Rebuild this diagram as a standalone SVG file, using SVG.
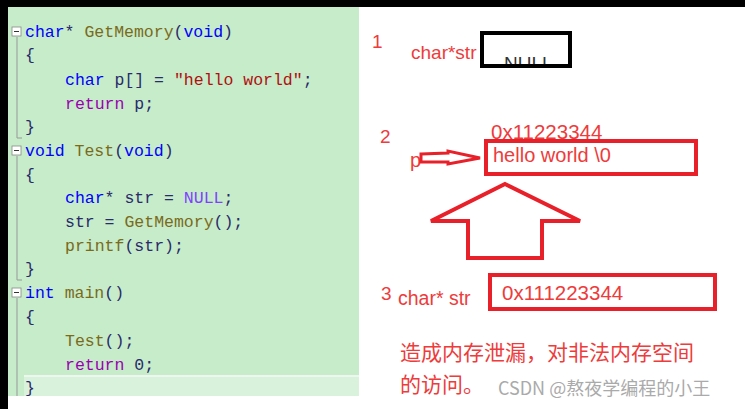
<svg xmlns="http://www.w3.org/2000/svg" width="745" height="409" viewBox="0 0 745 409">
<style>
.c{font-family:"Liberation Mono",monospace;font-size:16.5px;white-space:pre}
.k{fill:#0000ff}.f{fill:#7a6a1a}.t{fill:#2a2a6a}.s{fill:#b01010}.r{fill:#9b00b0}.m{fill:#8040ff}
.lab{font-family:"Liberation Sans",Arial,sans-serif;fill:#ee3b3b}
.red{fill:none;stroke:#e8202a;stroke-width:4}
.cn{font-family:"Noto Sans CJK SC",sans-serif;fill:#ee3b3b;font-size:21px}
.fold{fill:#fff;stroke:#888;stroke-width:0.8}
</style>
<rect width="745" height="409" fill="#fff"/>
<g id="code">
<rect x="0" y="0" width="745" height="7" fill="#000"/>
<rect x="0" y="0" width="8" height="409" fill="#000"/>
<rect x="8" y="7" width="351" height="389" fill="#c6ecca"/>
<rect x="24" y="377" width="335" height="19" fill="#d9f2dc"/>
<rect x="24" y="375" width="335" height="2" fill="#eef7ef"/>
<g stroke="#999" stroke-width="1">
<line x1="17" y1="37" x2="17" y2="138"/><line x1="17" y1="138" x2="22" y2="138"/>
<line x1="17" y1="156" x2="17" y2="280"/><line x1="17" y1="280" x2="22" y2="280"/>
<line x1="17" y1="298" x2="17" y2="396"/>
</g>
<rect class="fold" x="12" y="27" width="9" height="9"/><line x1="14" y1="31.5" x2="19" y2="31.5" stroke="#333"/>
<rect class="fold" x="12" y="146" width="9" height="9"/><line x1="14" y1="150.5" x2="19" y2="150.5" stroke="#333"/>
<rect class="fold" x="12" y="288" width="9" height="9"/><line x1="14" y1="292.5" x2="19" y2="292.5" stroke="#333"/>
<text class="c" x="25" y="37"><tspan class="k">char</tspan><tspan class="t">* </tspan><tspan class="f">GetMemory</tspan><tspan class="t">(</tspan><tspan class="k">void</tspan><tspan class="t">)</tspan></text>
<text class="c t" x="25" y="60">{</text>
<text class="c" x="65" y="85"><tspan class="k">char</tspan><tspan class="t"> p[] = </tspan><tspan class="s">"hello world"</tspan><tspan class="t">;</tspan></text>
<text class="c" x="65" y="109"><tspan class="r">return</tspan><tspan class="t"> p;</tspan></text>
<text class="c t" x="25" y="132">}</text>
<text class="c" x="25" y="156"><tspan class="k">void</tspan><tspan class="t"> </tspan><tspan class="f">Test</tspan><tspan class="t">(</tspan><tspan class="k">void</tspan><tspan class="t">)</tspan></text>
<text class="c t" x="25" y="180">{</text>
<text class="c" x="65" y="203"><tspan class="k">char</tspan><tspan class="t">* str = </tspan><tspan class="m">NULL</tspan><tspan class="t">;</tspan></text>
<text class="c" x="65" y="227"><tspan class="t">str = </tspan><tspan class="f">GetMemory</tspan><tspan class="t">();</tspan></text>
<text class="c" x="65" y="251"><tspan class="f">printf</tspan><tspan class="t">(str);</tspan></text>
<text class="c t" x="25" y="274">}</text>
<text class="c" x="25" y="298"><tspan class="k">int</tspan><tspan class="t"> </tspan><tspan class="f">main</tspan><tspan class="t">()</tspan></text>
<text class="c t" x="25" y="322">{</text>
<text class="c" x="65" y="346"><tspan class="f">Test</tspan><tspan class="t">();</tspan></text>
<text class="c" x="65" y="370"><tspan class="r">return</tspan><tspan class="t"> 0;</tspan></text>
<text class="c t" x="25" y="393">}</text>
</g>
<g id="step1">
<text class="lab" x="372" y="48" font-size="19">1</text>
<text class="lab" x="411" y="59" font-size="19">char*str</text>
<text x="504" y="70" font-family="Liberation Sans,sans-serif" font-size="19" fill="#333">NULL</text>
<rect x="482" y="64" width="88" height="10" fill="#fff"/>
<rect x="482" y="33" width="88" height="33" fill="none" stroke="#000" stroke-width="4"/>
</g>
<g id="step2">
<text class="lab" x="380" y="143" font-size="19">2</text>
<text class="lab" x="491" y="139" font-size="20.5">0x11223344</text>
<rect class="red" x="486" y="141" width="210" height="33"/>
<text class="lab" x="493" y="162" font-size="20">hello world \0</text>
<text class="lab" x="410" y="167" font-size="20">p</text>
</g>
<g id="connectors">
<path d="M421 154 L448 153 L448 151 L480 158 L448 164 L448 162 L421 162 Z" fill="none" stroke="#e8202a" stroke-width="3"/>
<path d="M505 184 L580 221 L542 221 L542 258 L468 258 L468 221 L431 221 Z" fill="none" stroke="#e8202a" stroke-width="4" stroke-linejoin="miter"/>
</g>
<g id="step3">
<text class="lab" x="381" y="300" font-size="19">3</text>
<text class="lab" x="398" y="305" font-size="19.5">char* str</text>
<rect class="red" x="490" y="275" width="225" height="34"/>
<text class="lab" x="502" y="300" font-size="20.5">0x111223344</text>
<text class="cn" x="400" y="360">造成内存泄漏，对非法内存空间</text>
<text class="cn" x="400" y="392">的访问。</text>
<text x="498" y="395" font-family="Noto Sans CJK SC,sans-serif" font-size="18" fill="#aaa">CSDN @熬夜学编程的小王</text>
</g>
</svg>
